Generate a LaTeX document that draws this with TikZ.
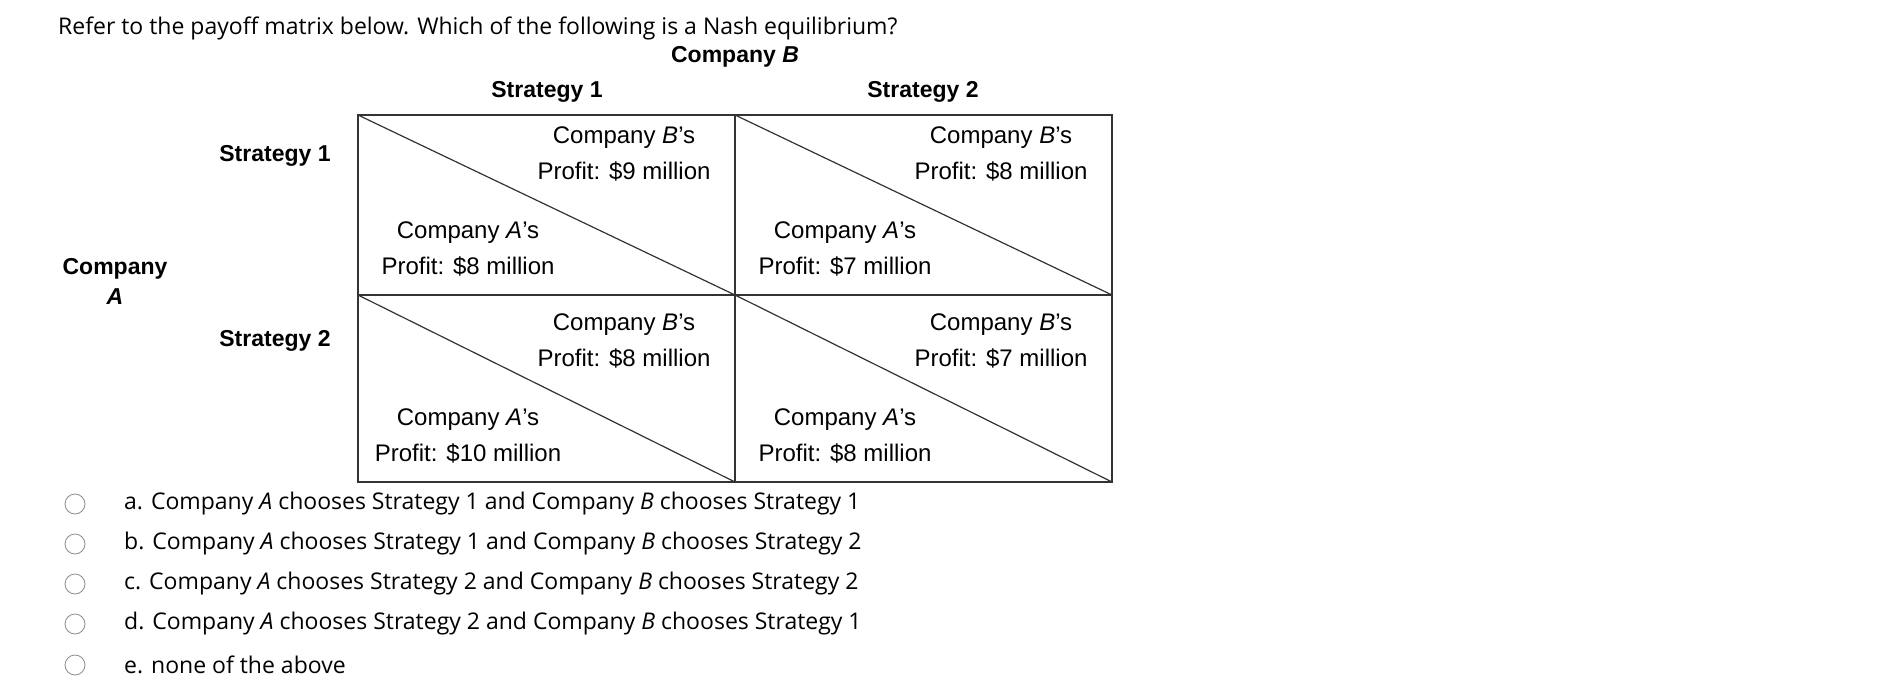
\documentclass[tikz,border=0pt]{standalone}
\usepackage{fontspec}
\setmainfont{Open Sans}
\newfontfamily\arial{Liberation Sans}
\begin{document}
\begin{tikzpicture}[x=1pt,y=-1pt,
  q/.style={font=\fontsize{23}{28}\selectfont, anchor=west, inner sep=0},
  lab/.style={font=\arial\bfseries\fontsize{23}{28}\selectfont, inner sep=0},
  cell/.style={font=\arial\fontsize{24}{36}\selectfont, align=center, inner sep=0},
  line/.style={draw=black!80, line width=1.2pt},
  opt/.style={draw=black!45, line width=0.8pt, circle, minimum size=20pt, inner sep=0}]
\useasboundingbox (0,0) rectangle (1895,696);
\node[q] (title) at (58,28) {Refer to the payoff matrix below. Which of the following is a Nash equilibrium?};
\node[lab] (cb) at (735,57) {Company \textit{B}};
\node[lab] (s1) at (547,92) {Strategy 1};
\node[lab] (s2) at (923,92) {Strategy 2};
\node[lab] (r1) at (275,156) {Strategy 1};
\node[lab] (r2) at (275,341) {Strategy 2};
\node[lab, align=center] (ca) at (115,281) {Company\\[2pt]\textit{A}};
\coordinate (tl) at (358,115); \coordinate (tm) at (735,115); \coordinate (tr) at (1112,115);
\coordinate (ml) at (358,295); \coordinate (mm) at (735,295); \coordinate (mr) at (1112,295);
\coordinate (bl) at (358,482); \coordinate (bm) at (735,482); \coordinate (br) at (1112,482);
\draw[line] (tl) rectangle (br);
\draw[line] (tm) -- (bm);
\draw[line] (ml) -- (mr);
\draw[line] (tl) -- (mm); \draw[line] (tm) -- (mr);
\draw[line] (ml) -- (bm); \draw[line] (mm) -- (br);
\node[cell] (b11) at (624,154) {Company \textit{B}’s\\Profit: \$9 million};
\node[cell] (a11) at (468,249) {Company \textit{A}’s\\Profit: \$8 million};
\node[cell] (b12) at (1001,154) {Company \textit{B}’s\\Profit: \$8 million};
\node[cell] (a12) at (845,249) {Company \textit{A}’s\\Profit: \$7 million};
\node[cell] (b21) at (624,341) {Company \textit{B}’s\\Profit: \$8 million};
\node[cell] (a21) at (468,436) {Company \textit{A}’s\\Profit: \$10 million};
\node[cell] (b22) at (1001,341) {Company \textit{B}’s\\Profit: \$7 million};
\node[cell] (a22) at (845,436) {Company \textit{A}’s\\Profit: \$8 million};
\foreach \n/\y/\t in {a/504/{a. Company \textit{A} chooses Strategy 1 and Company \textit{B} chooses Strategy 1},
  b/544/{b. Company \textit{A} chooses Strategy 1 and Company \textit{B} chooses Strategy 2},
  c/584/{c. Company \textit{A} chooses Strategy 2 and Company \textit{B} chooses Strategy 2},
  d/624/{d. Company \textit{A} chooses Strategy 2 and Company \textit{B} chooses Strategy 1},
  e/665/{e. none of the above}}{
  \node[opt] (c\n) at (75,\y) {};
  \node[q] (o\n) at (124,\y) {\t};
}
\end{tikzpicture}
\end{document}
